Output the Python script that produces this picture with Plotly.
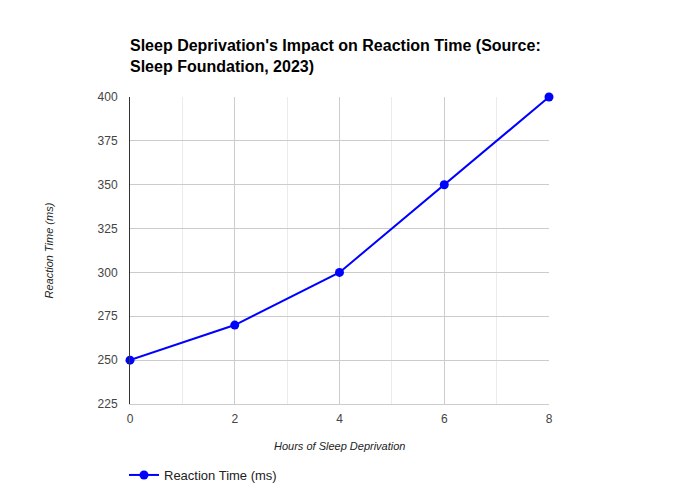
import plotly.graph_objects as go

hours = [0, 2, 4, 6, 8]
reaction_ms = [250, 270, 300, 350, 400]
series_name = "Reaction Time (ms)"
title_text = "Sleep Deprivation's Impact on Reaction Time (Source:<br>Sleep Foundation, 2023)"
x_title = "Hours of Sleep Deprivation"
y_title = "Reaction Time (ms)"

FONT = "Liberation Sans, Arial, sans-serif"
OFF = 8  # page body offset
W, H = 680 - OFF, 500 - OFF
L, T = 130 - OFF, 97 - OFF
R = W - (549 - OFF)
B = H - (404 - OFF)
pw, ph = W - L - R, H - T - B

fig = go.Figure()
fig.add_trace(go.Scatter(
    x=hours, y=reaction_ms, mode="lines+markers", name=series_name,
    line=dict(color="#0000ff", width=2),
    marker=dict(color="#0000ff", size=9),
    cliponaxis=False,
))

fig.update_layout(
    width=W, height=H,
    margin=dict(l=L, r=R, t=T, b=B, autoexpand=False),
    paper_bgcolor="white", plot_bgcolor="white",
    font=dict(family=FONT, size=12, color="#444444"),
    title=dict(text="<b>" + title_text + "</b>", x=L / W, xref="container", xanchor="left",
               y=1 - 43 / H, yref="container", yanchor="top",
               font=dict(family=FONT, size=16, color="#000000")),
    xaxis=dict(range=[0, 8], dtick=2, tick0=0, showgrid=True, gridcolor="#cccccc", gridwidth=1,
               minor=dict(dtick=1, showgrid=True, gridcolor="#ebebeb", gridwidth=1),
               showline=True, linecolor="#cccccc", linewidth=1, zeroline=False,
               ticks="", ticklabelstandoff=4, tickfont=dict(family=FONT, size=12, color="#444444")),
    yaxis=dict(range=[225, 400], dtick=25, tick0=225, showgrid=True, gridcolor="#cccccc", gridwidth=1,
               showline=True, linecolor="#333333", linewidth=1, zeroline=False,
               ticks="", ticklabelstandoff=9, tickfont=dict(family=FONT, size=12, color="#444444")),
    showlegend=True,
    legend=dict(orientation="h", x=-6 / pw, xanchor="left", y=-(460 - 404) / ph, yanchor="top",
                font=dict(family=FONT, size=13, color="#222222"), bgcolor="rgba(0,0,0,0)"),
    hovermode=False,
)

fig.add_annotation(text=x_title, xref="paper", yref="paper", x=0.5, y=-(446 - 404) / ph,
                   xanchor="center", yanchor="middle", showarrow=False,
                   font=dict(family=FONT, size=11, color="#222222", style="italic"))
fig.add_annotation(text=y_title, xref="paper", yref="paper", x=(48 - 130) / pw, y=0.5,
                   xanchor="center", yanchor="middle", showarrow=False, textangle=-90,
                   font=dict(family=FONT, size=11, color="#222222", style="italic"))

fig.write_html("out.html")
